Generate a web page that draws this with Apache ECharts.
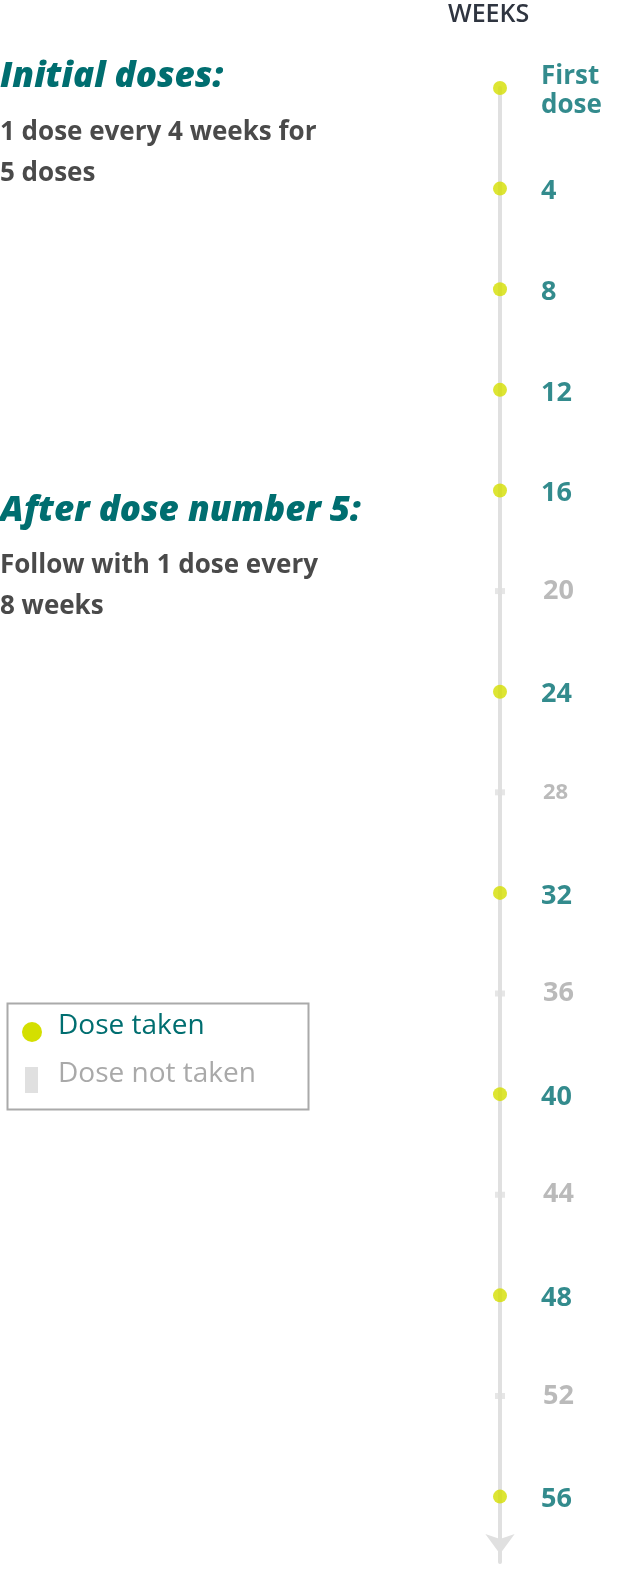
<!DOCTYPE html>
<html><head><meta charset="utf-8">
<script src="https://cdn.jsdelivr.net/npm/echarts@6/dist/echarts.min.js"></script>
<style>html,body{margin:0;padding:0;background:#fff}#c{width:617px;height:1590px}</style>
</head><body><div id="c"></div>
<script>
const takenWeeks = [0, 4, 8, 12, 16, 24, 32, 40, 48, 56];
const takenLabels = ['First\ndose', '4', '8', '12', '16', '24', '32', '40', '48', '56'];
const missedWeeks = [20, 28, 36, 44, 52];
const missedLabels = ['20', '28', '36', '44', '52'];
const TEAL = '#006E70', LIME = '#D4DF00', GREY = '#A9A9A9', LINE = '#E0E0E0';
const chart = echarts.init(document.getElementById('c'));
const F = '"Open Sans", Lato, sans-serif';
chart.setOption({
  animation: false,
  grid: {left: 500, top: 88, width: 100, height: 1474},
  xAxis: {type: 'value', min: 0, max: 1, show: false},
  yAxis: {type: 'value', inverse: true, min: 0, max: 58.6, position: 'left',
    axisLine: {show: true, lineStyle: {color: LINE, width: 4}, symbol: ['arrow', 'none'], symbolSize: [22, 20], symbolOffset: [8, 0]},
    axisTick: {show: false}, axisLabel: {show: false}, splitLine: {show: false}},
  series: [
    {type: 'scatter', symbol: 'circle', symbolSize: 14, itemStyle: {color: LIME}, z: 5,
     data: takenWeeks.map((w, i) => ({value: [0, w], label: i === 0 ? {formatter: takenLabels[i], offset: [0, 3], lineHeight: 29, fontSize: 26} : {formatter: takenLabels[i], offset: [0, 3]}})),
     label: {show: true, position: 'right', distance: 34, color: TEAL, fontSize: 27, fontWeight: 'bold', fontFamily: F}},
    {type: 'scatter', symbol: 'rect', symbolSize: [10, 6], itemStyle: {color: LINE}, z: 5,
     data: missedWeeks.map((w, i) => ({value: [0, w], label: {formatter: missedLabels[i], fontSize: i === 1 ? 22 : 27}})),
     label: {show: true, position: 'right', distance: 38, color: GREY, fontSize: 27, fontWeight: 'bold', fontFamily: F}}
  ],
  graphic: [
    {type: 'text', left: 448, top: 2, style: {text: 'WEEKS', font: '600 25px ' + F, fill: '#2F3540'}},
    {type: 'text', left: 0, top: 60, style: {text: 'Initial doses:', font: 'italic 800 35px ' + F, fill: TEAL}},
    {type: 'text', left: 0, top: 112, style: {text: '1 dose every 4 weeks for\n5 doses', font: 'bold 26px ' + F, lineHeight: 41, fill: '#4A4A4A'}},
    {type: 'text', left: 0, top: 494, style: {text: 'After dose number 5:', font: 'italic 800 35px ' + F, fill: TEAL}},
    {type: 'text', left: 0, top: 545, style: {text: 'Follow with 1 dose every\n8 weeks', font: 'bold 26px ' + F, lineHeight: 41, fill: '#4A4A4A'}},
    {type: 'rect', shape: {x: 7.5, y: 1003.5, width: 301, height: 106}, style: {fill: 'none', stroke: '#AAAAAA', lineWidth: 2}},
    {type: 'circle', shape: {cx: 32, cy: 1032, r: 10}, style: {fill: LIME}},
    {type: 'rect', shape: {x: 25, y: 1067, width: 13, height: 26}, style: {fill: LINE}},
    {type: 'text', left: 58, top: 1012, style: {text: 'Dose taken', font: '28px ' + F, fill: TEAL}},
    {type: 'text', left: 58, top: 1060, style: {text: 'Dose not taken', font: '28px ' + F, fill: GREY}}
  ]
});
</script></body></html>
